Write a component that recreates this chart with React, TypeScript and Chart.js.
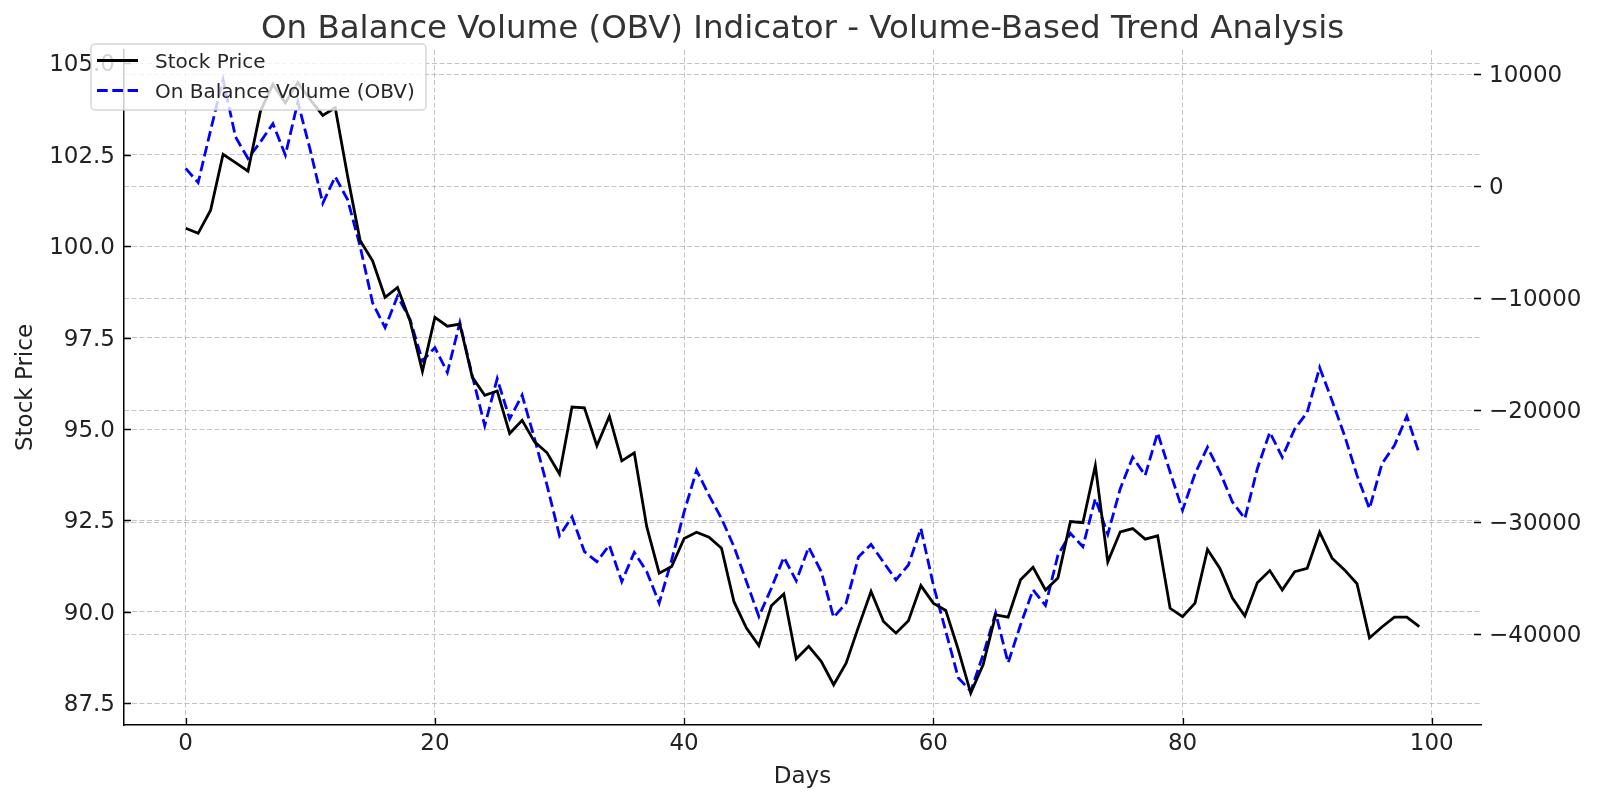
import React, { useEffect, useRef } from 'react';
import { Chart, registerables } from 'chart.js';

Chart.register(...registerables);

// ---- Data ----
const days: number[] = Array.from({ length: 100 }, (_, i) => i);

const stockPrice: number[] = [
  100.49, 100.35, 100.98, 102.51, 102.28, 102.05, 103.69, 104.42, 103.92, 104.47,
  104.0, 103.57, 103.78, 101.9, 100.15, 99.6, 98.6, 98.87, 97.96, 96.58,
  98.05, 97.81, 97.87, 96.42, 95.92, 96.04, 94.88, 95.24, 94.65, 94.35,
  93.77, 95.6, 95.58, 94.54, 95.35, 94.13, 94.35, 92.33, 91.06, 91.24,
  92.01, 92.18, 92.04, 91.74, 90.28, 89.56, 89.08, 90.17, 90.49, 88.72,
  89.06, 88.65, 88.01, 88.6, 89.6, 90.56, 89.74, 89.42, 89.76, 90.72,
  90.24, 90.04, 88.97, 87.78, 88.56, 89.92, 89.86, 90.88, 91.22, 90.6,
  90.93, 92.47, 92.44, 94.0, 91.37, 92.19, 92.28, 91.99, 92.08, 90.1,
  89.87, 90.24, 91.71, 91.19, 90.38, 89.89, 90.8, 91.13, 90.6, 91.1,
  91.19, 92.18, 91.47, 91.15, 90.77, 89.29, 89.59, 89.86, 89.86, 89.6,
];

const obvValues: number[] = [
  1570, 300, 4980, 9500, 4385, 2460, 3940, 5570, 2755, 7500,
  3200, -1540, 830, -1240, -5390, -10430, -12650, -9840, -11900, -15600,
  -14430, -16650, -12200, -16950, -21390, -17200, -20800, -18670, -22580, -26730,
  -31230, -29540, -32650, -33540, -32060, -35320, -32710, -34430, -37240, -33390,
  -29100, -25390, -27620, -29690, -32200, -35320, -38430, -35910, -33150, -35250,
  -32250, -34430, -38520, -37240, -33100, -32000, -33600, -35170, -33840, -30580,
  -35620, -39760, -43910, -45100, -41840, -38130, -42580, -39170, -36060, -37450,
  -32950, -31020, -32200, -27910, -31100, -27020, -24210, -25840, -22040, -25540,
  -28950, -25690, -23320, -25540, -28210, -29690, -25240, -21990, -24210, -21690,
  -20210, -16210, -19170, -22280, -25840, -28800, -24800, -23170, -20560, -23910,
];

const xTicks: number[] = [0, 20, 40, 60, 80, 100];
const priceTicks: number[] = [87.5, 90, 92.5, 95, 97.5, 100, 102.5, 105];
const obvTicks: number[] = [-40000, -30000, -20000, -10000, 0, 10000];

const titleText = 'On Balance Volume (OBV) Indicator - Volume-Based Trend Analysis';
const priceLabel = 'Stock Price';
const obvLabel = 'On Balance Volume (OBV)';

// ---- Styles ----
const FONT = "'DejaVu Sans', sans-serif";
const TEXT = '#222222';
const GRID = 'rgba(176,176,176,0.75)';
const GRID_DASH = [5, 2.5];
const OBV_DASH = [10.7, 4.6];

const fmtObv = (v: number) => (v < 0 ? '\u2212' + Math.abs(v) : String(v));

const overlayPlugin = {
  id: 'overlay',
  afterDraw(chart: any) {
    const { ctx, chartArea: a, scales } = chart;
    ctx.save();
    // inward tick marks
    ctx.strokeStyle = '#000';
    ctx.lineWidth = 1.3;
    ctx.setLineDash([]);
    ctx.beginPath();
    scales.y.ticks.forEach((t: any) => {
      const y = Math.round(scales.y.getPixelForValue(t.value)) + 0.5;
      ctx.moveTo(a.left, y);
      ctx.lineTo(a.left + 7, y);
    });
    scales.y1.ticks.forEach((t: any) => {
      const y = Math.round(scales.y1.getPixelForValue(t.value)) + 0.5;
      ctx.moveTo(a.right - 7, y);
      ctx.lineTo(a.right, y);
    });
    scales.x.ticks.forEach((t: any) => {
      const x = Math.round(scales.x.getPixelForValue(t.value)) + 0.5;
      ctx.moveTo(x, a.bottom);
      ctx.lineTo(x, a.bottom - 7);
    });
    ctx.stroke();

    // legend box
    const lx = a.left - 33;
    const ly = a.top - 6;
    const lw = 335;
    const lh = 66;
    ctx.beginPath();
    (ctx as any).roundRect(lx, ly, lw, lh, 4);
    ctx.fillStyle = 'rgba(255,255,255,0.8)';
    ctx.fill();
    ctx.strokeStyle = 'rgba(204,204,204,0.8)';
    ctx.lineWidth = 1.5;
    ctx.stroke();

    const ds = chart.data.datasets;
    const rows = [ly + 16.5, ly + 46.5];
    ds.forEach((d: any, i: number) => {
      const y = rows[i];
      ctx.beginPath();
      ctx.strokeStyle = d.borderColor;
      ctx.lineWidth = d.borderWidth;
      ctx.setLineDash(d.borderDash || []);
      ctx.moveTo(lx + 6, y);
      ctx.lineTo(lx + 47, y);
      ctx.stroke();
      ctx.setLineDash([]);
      ctx.fillStyle = '#262626';
      ctx.font = `20px ${FONT}`;
      ctx.textBaseline = 'middle';
      ctx.textAlign = 'left';
      ctx.fillText(d.label, lx + 64, y + 2);
    });
    ctx.restore();
  },
};

export default function App() {
  const canvasRef = useRef<HTMLCanvasElement | null>(null);

  useEffect(() => {
    document.body.style.margin = '0';
    const canvas = canvasRef.current;
    if (!canvas) return;
    const tickFont = { family: FONT, size: 23 };
    const chart = new Chart(canvas, {
      type: 'line',
      data: {
        datasets: [
          {
            label: priceLabel,
            data: days.map((d, i) => ({ x: d, y: stockPrice[i] })),
            borderColor: '#000000',
            backgroundColor: '#000000',
            borderWidth: 2.8,
            pointRadius: 0,
            tension: 0,
            yAxisID: 'y',
          },
          {
            label: obvLabel,
            data: days.map((d, i) => ({ x: d, y: obvValues[i] })),
            borderColor: '#0000ff',
            backgroundColor: '#0000ff',
            borderWidth: 2.8,
            borderDash: OBV_DASH,
            pointRadius: 0,
            tension: 0,
            yAxisID: 'y1',
          },
        ],
      },
      options: {
        responsive: false,
        maintainAspectRatio: false,
        animation: false,
        devicePixelRatio: 1,
        layout: { padding: { left: 5, right: 0, top: 0, bottom: 0 } },
        plugins: {
          legend: { display: false },
          tooltip: { enabled: false },
          title: {
            display: true,
            text: titleText,
            color: '#333333',
            font: { family: FONT, size: 32.5, weight: 'normal', lineHeight: 1.0 },
            padding: { top: 13.1, bottom: 4.4 },
          },
        },
        scales: {
          x: {
            type: 'linear',
            min: -4.95,
            max: 103.95,
            afterBuildTicks: (s: any) => {
              s.ticks = xTicks.map((v) => ({ value: v }));
            },
            afterFit: (s: any) => {
              s.height = 78;
            },
            grid: { color: GRID, lineWidth: 1, drawTicks: false },
            border: { display: true, color: '#000', width: 1.5, dash: GRID_DASH },
            ticks: {
              padding: 5,
              color: TEXT,
              font: tickFont,
              maxRotation: 0,
              autoSkip: false,
              callback: (v: any) => String(v),
            },
            title: {
              display: true,
              text: 'Days',
              color: TEXT,
              font: tickFont,
              padding: { top: 0, bottom: 11.7 },
            },
          },
          y: {
            type: 'linear',
            position: 'left',
            min: 86.91,
            max: 105.36,
            afterBuildTicks: (s: any) => {
              s.ticks = priceTicks.map((v) => ({ value: v }));
            },
            afterFit: (s: any) => {
              s.width = 119;
            },
            grid: { color: GRID, lineWidth: 1, drawTicks: false },
            border: { display: true, color: '#000', width: 1.5, dash: GRID_DASH },
            ticks: {
              padding: 9,
              labelOffset: 2,
              color: TEXT,
              font: tickFont,
              autoSkip: false,
              callback: (v: any) => Number(v).toFixed(1),
            },
            title: {
              display: true,
              text: 'Stock Price',
              color: TEXT,
              font: tickFont,
              padding: { top: 7.2, bottom: 0 },
            },
          },
          y1: {
            type: 'linear',
            position: 'right',
            min: -48125,
            max: 12143,
            afterBuildTicks: (s: any) => {
              s.ticks = obvTicks.map((v) => ({ value: v }));
            },
            afterFit: (s: any) => {
              s.width = 119;
            },
            grid: { color: GRID, lineWidth: 1, drawTicks: false, drawOnChartArea: true },
            border: { display: false, dash: GRID_DASH },
            ticks: {
              padding: 8,
              labelOffset: 2,
              color: TEXT,
              font: tickFont,
              autoSkip: false,
              callback: (v: any) => fmtObv(Number(v)),
            },
          },
        },
      },
      plugins: [overlayPlugin],
    } as any);
    return () => chart.destroy();
  }, []);

  return (
    <div style={{ position: 'fixed', left: 0, top: 0, width: 1600, height: 803, background: '#fff' }}>
      <canvas ref={canvasRef} width={1600} height={803} style={{ display: 'block', width: 1600, height: 803 }} />
    </div>
  );
}
